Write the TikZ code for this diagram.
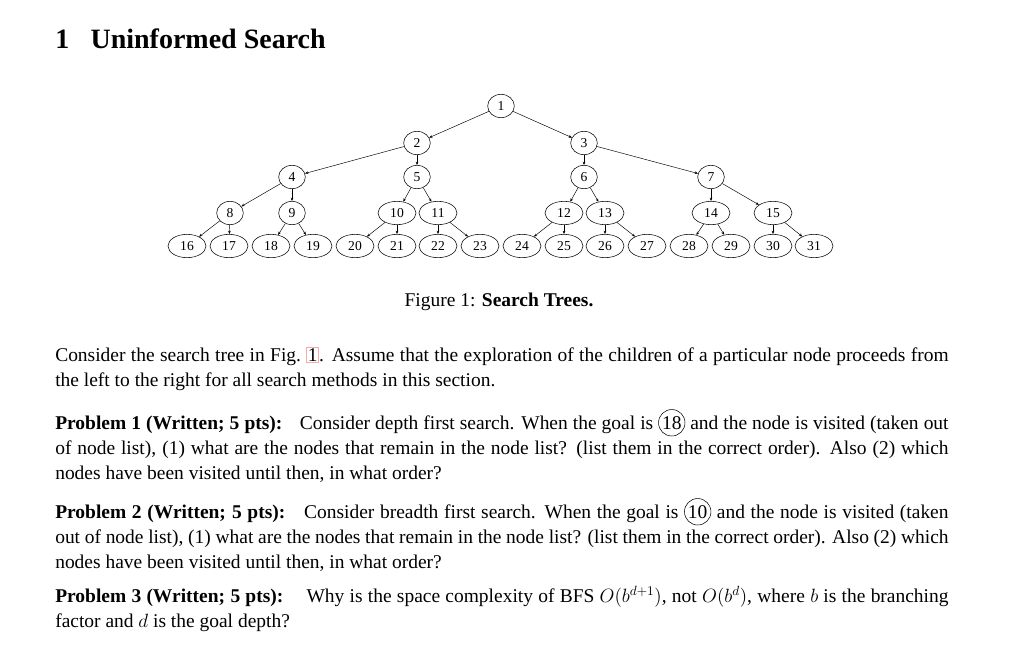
\documentclass[tikz,border=0pt]{standalone}
\usepackage{fontspec}
\setmainfont{Liberation Serif}
\usetikzlibrary{shapes.geometric,arrows.meta}
\newcommand{\circnum}[1]{\tikz[baseline=(c.base)]\node[draw,circle,inner sep=0.8pt,minimum size=18pt](c){#1};}
\begin{document}
\begin{tikzpicture}[x=0.75pt,y=-0.75pt,
  tn/.style={draw,ellipse,inner sep=0pt,minimum width=20pt,minimum height=17.5pt,font=\fontsize{10.2}{12}\selectfont},
  tw/.style={tn,minimum width=28.5pt},
  ed/.style={-{Stealth[length=2.5pt,width=2pt]},line width=0.35pt},
  para/.style={anchor=north west,inner sep=0pt,text width=670pt,align=justify,font=\fontsize{14.6}{18.75}\selectfont}]
\useasboundingbox (0,0) rectangle (1024,667);
\node[anchor=base west,inner sep=0pt,font=\fontsize{21}{24}\bfseries] (h) at (55,49) {1\hspace{16pt}Uninformed Search};
% tree
\node[tn] (n1) at (501,106) {1};
\node[tn] (n2) at (417,143) {2};
\node[tn] (n3) at (584,143) {3};
\node[tn] (n4) at (292,177) {4};
\node[tn] (n5) at (417,177) {5};
\node[tn] (n6) at (584,177) {6};
\node[tn] (n7) at (711,177) {7};
\node[tn] (n8) at (230,213) {8};
\node[tn] (n9) at (292,213) {9};
\node[tw] (n10) at (397,213) {10};
\node[tw] (n11) at (438,213) {11};
\node[tw] (n12) at (564,213) {12};
\node[tw] (n13) at (605,213) {13};
\node[tw] (n14) at (711,213) {14};
\node[tw] (n15) at (773,213) {15};
\foreach \i/\x in {16/187,17/229,18/271,19/313,20/355,21/397,22/438,23/480,24/522,25/564,26/605,27/647,28/689,29/731,30/773,31/814}
  \node[tw] (n\i) at (\x,246) {\i};
\foreach \p in {1,...,15}{
  \pgfmathtruncatemacro{\a}{2*\p}\pgfmathtruncatemacro{\b}{2*\p+1}
  \draw[ed] (n\p) -- (n\a);
  \draw[ed] (n\p) -- (n\b);
}
\node[anchor=base,inner sep=0pt,font=\fontsize{14.6}{16}\selectfont] (cap) at (499,306) {Figure 1: \textbf{Search Trees.}};
\setlength{\fboxsep}{0.5pt}\setlength{\fboxrule}{0.6pt}
\node[para] (p0) at (55,347) {Consider the search tree in Fig.~\fcolorbox{red!35}{white}{1}. Assume that the exploration of the children of a particular node proceeds from the left to the right for all search methods in this section.};
\node[para] (p1) at (55,409) {\textbf{Problem 1 (Written; 5 pts):}\hspace{8pt} Consider depth first search. When the goal is \circnum{18} and the node is visited (taken out of node list), (1) what are the nodes that remain in the node list? (list them in the correct order). Also (2) which nodes have been visited until then, in what order?};
\node[para] (p2) at (55,498) {\textbf{Problem 2 (Written; 5 pts):}\hspace{8pt} Consider breadth first search. When the goal is \circnum{10} and the node is visited (taken out of node list), (1) what are the nodes that remain in the node list? (list them in the correct order). Also (2) which nodes have been visited until then, in what order?};
\node[para] (p3) at (55,586) {\textbf{Problem 3 (Written; 5 pts):}\hspace{12pt} Why is the space complexity of BFS $O(b^{d+1})$, not $O(b^d)$, where $b$ is the branching factor and $d$ is the goal depth?};
\end{tikzpicture}
\end{document}
